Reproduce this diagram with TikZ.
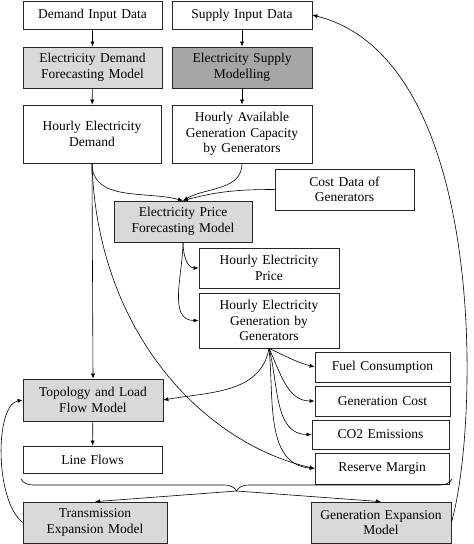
\documentclass[tikz,border=0pt]{standalone}
\usepackage{fontspec}
\setmainfont{Liberation Serif}
\usetikzlibrary{arrows.meta,decorations.pathreplacing}

\definecolor{lgray}{HTML}{D9D9D9}
\definecolor{dgray}{HTML}{A6A6A6}

\begin{document}
\begin{tikzpicture}[x=1pt,y=1pt,
  >={Latex[length=5pt,width=4pt]},
  box/.style 2 args={draw=black!85, line width=0.7pt, inner sep=0pt, align=center,
    text width=#1pt, minimum height=#2pt, font=\fontsize{13.5}{15.5}\selectfont},
  flow/.style={->, line width=0.6pt}]
  \useasboundingbox (0,0) rectangle (474,-544);

  \node (din)   at (92.5,-15)   [box={139}{28}] {Demand Input Data};
  \node (sin)   at (242,-15)    [box={140}{28}] {Supply Input Data};
  \node (dfm)   at (92.5,-67.5) [box={139}{41}, fill=lgray] {Electricity Demand\\Forecasting Model};
  \node (ssm)   at (242,-67.5)  [box={140}{41}, fill=dgray] {Electricity Supply\\Modelling};
  \node (hed)   at (92,-134)    [box={138}{58}] {Hourly Electricity\\Demand};
  \node (hag)   at (242,-134)   [box={140}{58}] {Hourly Available\\Generation Capacity\\by Generators};
  \node (cost)  at (344.5,-189.5) [box={139}{41}] {Cost Data of\\Generators};
  \node (pfm)   at (183,-221.5) [box={138}{41}, fill=lgray] {Electricity Price\\Forecasting Model};
  \node (hep)   at (269,-268)   [box={140}{40}] {Hourly Electricity\\Price};
  \node (heg)   at (269,-320.5) [box={140}{55}] {Hourly Electricity\\Generation by\\Generators};
  \node (fuel)  at (382.5,-367) [box={135}{30}] {Fuel Consumption};
  \node (gcost) at (382.5,-401) [box={135}{30}] {Generation Cost};
  \node (co2)   at (380.5,-434.5) [box={137}{29}] {CO2 Emissions};
  \node (rm)    at (382,-468.5) [box={134}{31}] {Reserve Margin};
  \node (tlf)   at (93,-400)    [box={140}{42}, fill=lgray] {Topology and Load\\Flow Model};
  \node (lf)    at (92.5,-459.5) [box={139}{27}] {Line Flows};
  \node (tem)   at (95,-522.5)  [box={144}{41}, fill=lgray] {Transmission\\Expansion Model};
  \node (gem)   at (381,-522.5) [box={140}{41}, fill=lgray] {Generation Expansion\\Model};

  \draw[flow] (din) -- (dfm);
  \draw[flow] (sin) -- (ssm);
  \draw[flow] (dfm) -- (hed);
  \draw[flow] (ssm) -- (hag);

  % inputs of the price model
  \draw[flow] (hed.south) to[out=-90,in=165] (pfm.north);
  \draw[flow] (hag.south) to[out=-90,in=30] (pfm.north);
  \draw[flow] (cost.west) to[out=180,in=15] (pfm.north);

  \draw[flow] (pfm.south) to[out=-90,in=180] (hep.west);
  \draw[flow] (pfm.south) to[out=-90,in=180] (heg.west);

  \draw[flow] (hed.south) -- (tlf.north);
  \draw[flow] (hed.south) .. controls +(5,-170) and +(-110,25) .. (rm.west);

  \draw[flow] (heg.south) to[out=-25,in=165] (fuel.west);
  \draw[flow] (heg.south) to[out=-65,in=180] (gcost.west);
  \draw[flow] (heg.south) to[out=-75,in=180] (co2.west);
  \draw[flow] (heg.south) to[out=-84,in=175] (rm.west);
  \draw[flow] (heg.south) to[out=-100,in=10] (tlf.east);

  \draw[flow] (tlf) -- (lf);

  % feedback loops
  \draw[flow] (gem.east) .. controls +(27,92) and +(178,-45) .. (sin.east);
  \draw[flow] (tem.west) .. controls +(-28,22) and +(-28,-5) .. (tlf.west);

  \draw[line width=0.6pt, decorate, decoration={brace, mirror, amplitude=12pt}]
    (21,-479) -- (452,-479);
  \coordinate (bt) at (236.5,-491);
  \draw[flow] (bt) -- (tem.north);
  \draw[flow] (bt) -- (gem.north);
\end{tikzpicture}
\end{document}
